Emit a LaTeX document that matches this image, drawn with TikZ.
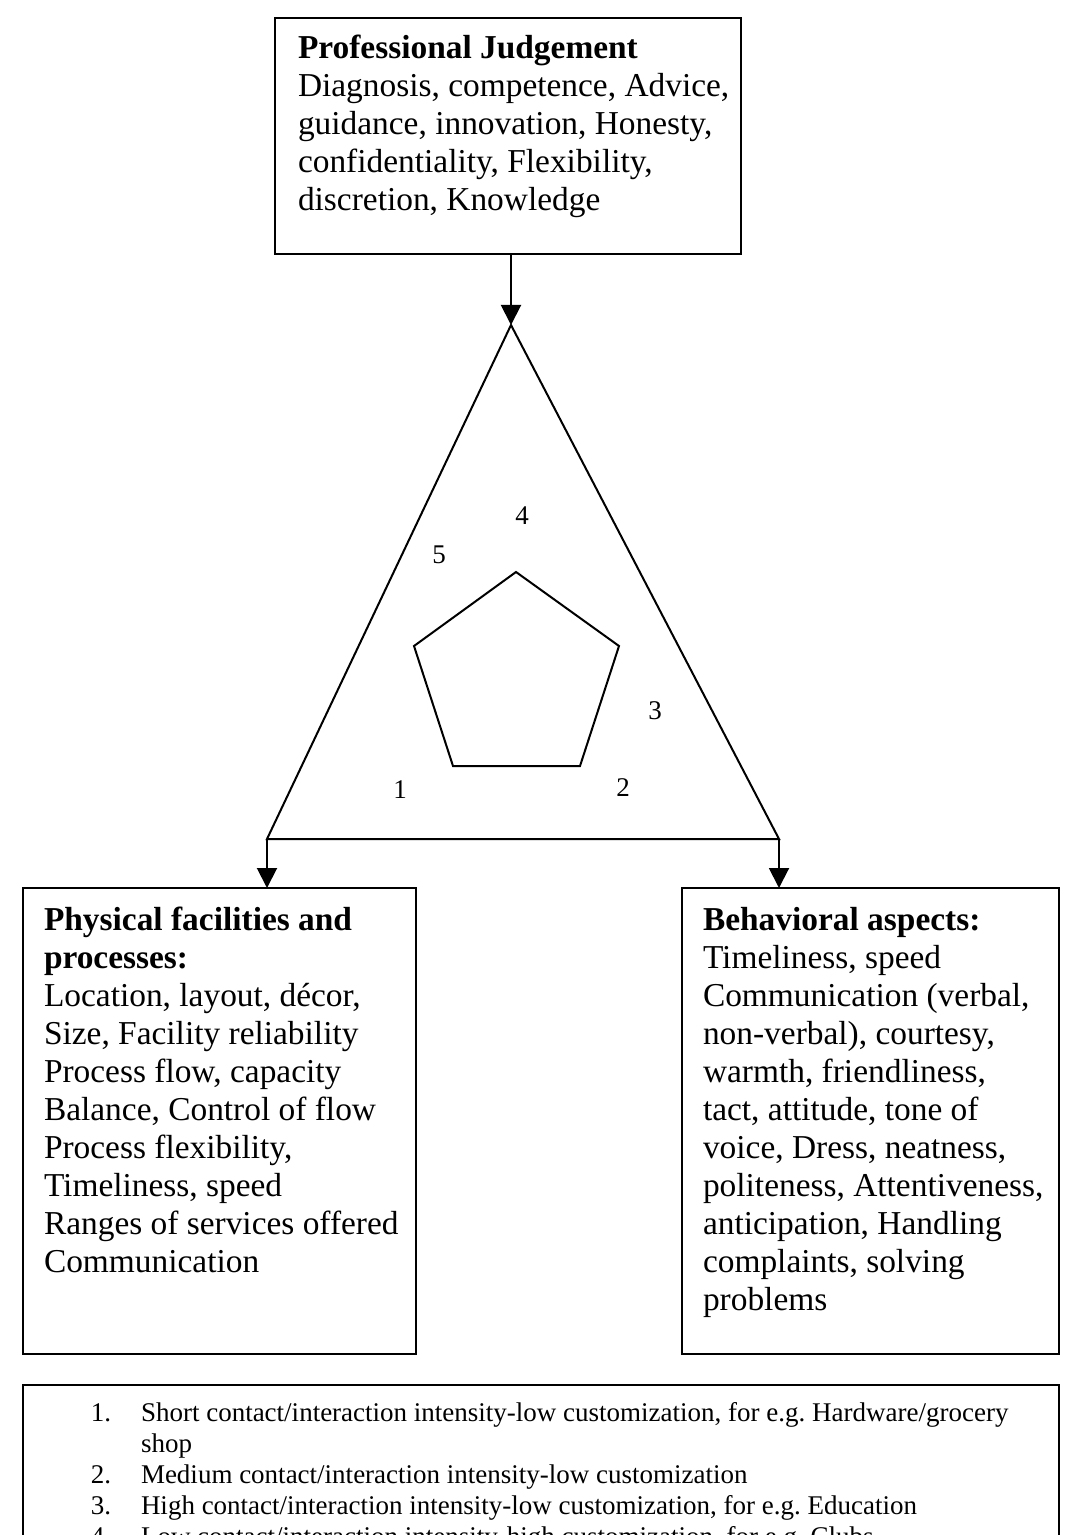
\documentclass[tikz,border=0pt]{standalone}
\usepackage{fontspec}
\setmainfont{Liberation Serif}
\usetikzlibrary{arrows.meta}
\frenchspacing
\begin{document}
\begin{tikzpicture}[x=0.5pt,y=-0.5pt,
  line width=1pt,
  boxnode/.style={draw, line width=1pt, anchor=north west, inner sep=0pt, outer sep=0pt},
  txt/.style={anchor=base west, inner sep=0pt, outer sep=0pt, font=\fontsize{16.7}{19}\selectfont},
  num/.style={inner sep=0pt, outer sep=0pt, font=\fontsize{13.5}{15}\selectfont},
  legtxt/.style={anchor=base west, inner sep=0pt, outer sep=0pt, font=\fontsize{13.5}{15.5}\selectfont},
  legnum/.style={anchor=base east, inner sep=0pt, outer sep=0pt, font=\fontsize{13.5}{15.5}\selectfont},
  arr/.style={-{Triangle[width=10pt,length=10pt]}, line width=1pt}]
\useasboundingbox (0,0) rectangle (1091,1535);
\clip (0,0) rectangle (1091,1535);
\fill[white] (0,0) rectangle (1091,1535);

% top box
\node[boxnode, minimum width=233pt, minimum height=118pt] (pj) at (275,18) {};
\node[txt] (pjt) at (298,59) {\parbox[t]{225pt}{\raggedright
\textbf{Professional Judgement}\\
Diagnosis, competence, Advice,\\
guidance, innovation, Honesty,\\
confidentiality, Flexibility,\\
discretion, Knowledge}};

% triangle
\coordinate (apex) at (511,325);
\coordinate (bl) at (267,839);
\coordinate (br) at (779,839);
\draw[line join=miter] (bl) -- (apex) -- (br) -- cycle;

% pentagon
\draw (516,572) -- (619,646) -- (580,766) -- (453,766) -- (414,646) -- cycle;

% numbers
\node[num] (n4) at (522,516) {4};
\node[num] (n5) at (439,555) {5};
\node[num] (n3) at (655,711) {3};
\node[num] (n2) at (623,788) {2};
\node[num] (n1) at (400,790) {1};

% left box
\node[boxnode, minimum width=196.5pt, minimum height=233pt] (pf) at (23,888) {};
\node[txt] (pft) at (44,930) {\parbox[t]{195pt}{\raggedright
\textbf{Physical facilities and}\\
\textbf{processes:}\\
Location, layout, décor,\\
Size, Facility reliability\\
Process flow, capacity\\
Balance, Control of flow\\
Process flexibility,\\
Timeliness, speed\\
Ranges of services offered\\
Communication}};

% right box
\node[boxnode, minimum width=188.5pt, minimum height=233pt] (ba) at (682,888) {};
\node[txt] (bat) at (703,930) {\parbox[t]{185pt}{\raggedright
\textbf{Behavioral aspects:}\\
Timeliness, speed\\
Communication (verbal,\\
non-verbal), courtesy,\\
warmth, friendliness,\\
tact, attitude, tone of\\
voice, Dress, neatness,\\
politeness, Attentiveness,\\
anticipation, Handling\\
complaints, solving\\
problems}};

% connectors
\draw[arr] (apex |- pj.south) -- (apex);
\draw[arr] (bl) -- (bl |- pf.north);
\draw[arr] (br) -- (br |- ba.north);

% legend box
\node[boxnode, minimum width=518pt, minimum height=120pt] (leg) at (23,1385) {};
\node[legnum] (l1n) at (111,1421) {1.};
\node[legtxt] (l1t) at (141,1421) {Short contact/interaction intensity-low customization, for e.g. Hardware/grocery};
\node[legtxt] (l1u) at (141,1452) {shop};
\node[legnum] (l2n) at (111,1483) {2.};
\node[legtxt] (l2t) at (141,1483) {Medium contact/interaction intensity-low customization};
\node[legnum] (l3n) at (111,1514) {3.};
\node[legtxt] (l3t) at (141,1514) {High contact/interaction intensity-low customization, for e.g. Education};
\node[legnum] (l4n) at (111,1545) {4.};
\node[legtxt] (l4t) at (141,1545) {Low contact/interaction intensity-high customization, for e.g. Clubs};
\end{tikzpicture}
\end{document}
